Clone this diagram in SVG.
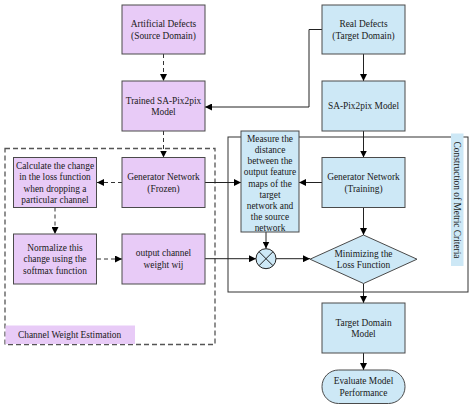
<svg xmlns="http://www.w3.org/2000/svg" width="474" height="408" viewBox="0 0 474 408">
<style>
.p{fill:#E8CBF7;stroke:#4a4a4a;stroke-width:1}
.b{fill:#CDE8F6;stroke:#4a4a4a;stroke-width:1}
.t{font-family:"Liberation Serif","Times New Roman",serif;font-size:9.4px;fill:#1a1a1a;text-anchor:middle;dominant-baseline:central}
.s{fill:none;stroke:#222;stroke-width:1}
.d{fill:none;stroke:#333;stroke-width:1;stroke-dasharray:4,3}
</style>
<defs>
<marker id="a" viewBox="0 0 10 10" refX="10" refY="5" markerWidth="7" markerHeight="7" markerUnits="userSpaceOnUse" orient="auto"><path d="M0,0 L10,5 L0,10 z" fill="#000"/></marker>
</defs>
<rect width="474" height="408" fill="#fff"/>
<g id="frames">
<rect x="228" y="137" width="240" height="155" fill="none" stroke="#333" stroke-width="1"/>
<rect x="5" y="148.5" width="210" height="196" fill="none" stroke="#555" stroke-width="1.3" stroke-dasharray="5,3"/>
</g>
<g id="connectors">
<line class="d" x1="163.5" y1="54" x2="163.5" y2="81" marker-end="url(#a)"/>
<line class="d" x1="163.5" y1="131" x2="163.5" y2="157.5" marker-end="url(#a)"/>
<line class="d" x1="122" y1="182.5" x2="97" y2="182.5" marker-end="url(#a)"/>
<line class="d" x1="55" y1="207.5" x2="55" y2="234" marker-end="url(#a)"/>
<line class="d" x1="97" y1="259" x2="122" y2="259" marker-end="url(#a)"/>
<polyline class="s" points="322,29.5 309,29.5 309,107 205,107" marker-end="url(#a)"/>
<line class="s" x1="363.5" y1="54" x2="363.5" y2="81" marker-end="url(#a)"/>
<line class="s" x1="363.5" y1="131" x2="363.5" y2="157.5" marker-end="url(#a)"/>
<line class="s" x1="205" y1="182.5" x2="241" y2="182.5" marker-end="url(#a)"/>
<line class="s" x1="322" y1="182.5" x2="299" y2="182.5" marker-end="url(#a)"/>
<line class="s" x1="266" y1="232" x2="266" y2="248.5" marker-end="url(#a)"/>
<line class="s" x1="205" y1="258.7" x2="256" y2="258.7" marker-end="url(#a)"/>
<line class="s" x1="276" y1="258.7" x2="310" y2="258.7" marker-end="url(#a)"/>
<line class="s" x1="363.5" y1="207.5" x2="363.5" y2="235" marker-end="url(#a)"/>
<line class="s" x1="363.5" y1="283.5" x2="363.5" y2="303" marker-end="url(#a)"/>
<line class="s" x1="363.5" y1="353" x2="363.5" y2="370" marker-end="url(#a)"/>
</g>
<g id="artificial"><rect class="p" x="122" y="5" width="83" height="49"/><text class="t" x="163.5" y="24">Artificial Defects</text><text class="t" x="163.5" y="35.5">(Source Domain)</text></g>
<g id="trained"><rect class="p" x="122" y="81" width="83" height="50"/><text class="t" x="163.5" y="100.5">Trained SA-Pix2pix</text><text class="t" x="163.5" y="112">Model</text></g>
<g id="genfrozen"><rect class="p" x="122" y="157.5" width="83" height="50"/><text class="t" x="163.5" y="177">Generator Network</text><text class="t" x="163.5" y="188.5">(Frozen)</text></g>
<g id="calc"><rect class="p" x="13.5" y="157.5" width="83" height="50"/><text class="t" x="55" y="165.5">Calculate the change</text><text class="t" x="55" y="177">in the loss function</text><text class="t" x="55" y="188.5">when dropping a</text><text class="t" x="55" y="200">particular channel</text></g>
<g id="normalize"><rect class="p" x="13.5" y="234" width="83" height="50"/><text class="t" x="55" y="247.5">Normalize this</text><text class="t" x="55" y="259">change using the</text><text class="t" x="55" y="270.5">softmax function</text></g>
<g id="output"><rect class="p" x="122" y="234" width="83" height="50"/><text class="t" x="163.5" y="253">output channel</text><text class="t" x="163.5" y="264.5">weight wij</text></g>
<g id="cwe"><rect x="5.5" y="325.5" width="129.5" height="18.5" fill="#E8CBF7"/><text class="t" x="18" y="335" style="text-anchor:start">Channel Weight Estimation</text></g>
<g id="real"><rect class="b" x="322" y="5" width="83" height="49"/><text class="t" x="363.5" y="24">Real Defects</text><text class="t" x="363.5" y="35.5">(Target Domain)</text></g>
<g id="sapix"><rect class="b" x="322" y="81" width="83" height="50"/><text class="t" x="363.5" y="106">SA-Pix2pix Model</text></g>
<g id="gentrain"><rect class="b" x="322" y="157.5" width="83" height="50"/><text class="t" x="363.5" y="177">Generator Network</text><text class="t" x="363.5" y="188.5">(Training)</text></g>
<g id="measure"><rect class="b" x="241" y="131" width="58" height="101"/>
<text class="t" x="270" y="138.5">Measure the</text><text class="t" x="270" y="149.7">distance</text><text class="t" x="270" y="161">between the</text><text class="t" x="270" y="172.2">output feature</text><text class="t" x="270" y="183.5">maps of the</text><text class="t" x="270" y="194.7">target</text><text class="t" x="270" y="206">network and</text><text class="t" x="270" y="217.2">the source</text><text class="t" x="270" y="228.4">network</text></g>
<g id="mult"><circle cx="266" cy="258.7" r="10" fill="#CDE8F6" stroke="#222" stroke-width="1"/><path d="M259,251.7 L273,265.7 M273,251.7 L259,265.7" stroke="#222" stroke-width="1"/></g>
<g id="minimize"><polygon class="b" points="363.5,235 417,259.2 363.5,283.5 310,259.2"/><text class="t" x="363.5" y="253.5">Minimizing the</text><text class="t" x="363.5" y="265">Loss Function</text></g>
<g id="metric"><rect x="451" y="133.5" width="12.5" height="132.5" fill="#CDE8F6"/><text class="t" transform="translate(457.2,200) rotate(90)">Construction of Metric Criteria</text></g>
<g id="targetmodel"><rect class="b" x="322" y="303" width="83" height="50"/><text class="t" x="363.5" y="322.5">Target Domain</text><text class="t" x="363.5" y="334">Model</text></g>
<g id="evaluate"><rect class="b" x="322" y="370" width="83" height="33.5" rx="16.5" ry="16.5"/><text class="t" x="363.5" y="381">Evaluate Model</text><text class="t" x="363.5" y="392.5">Performance</text></g>
</svg>
